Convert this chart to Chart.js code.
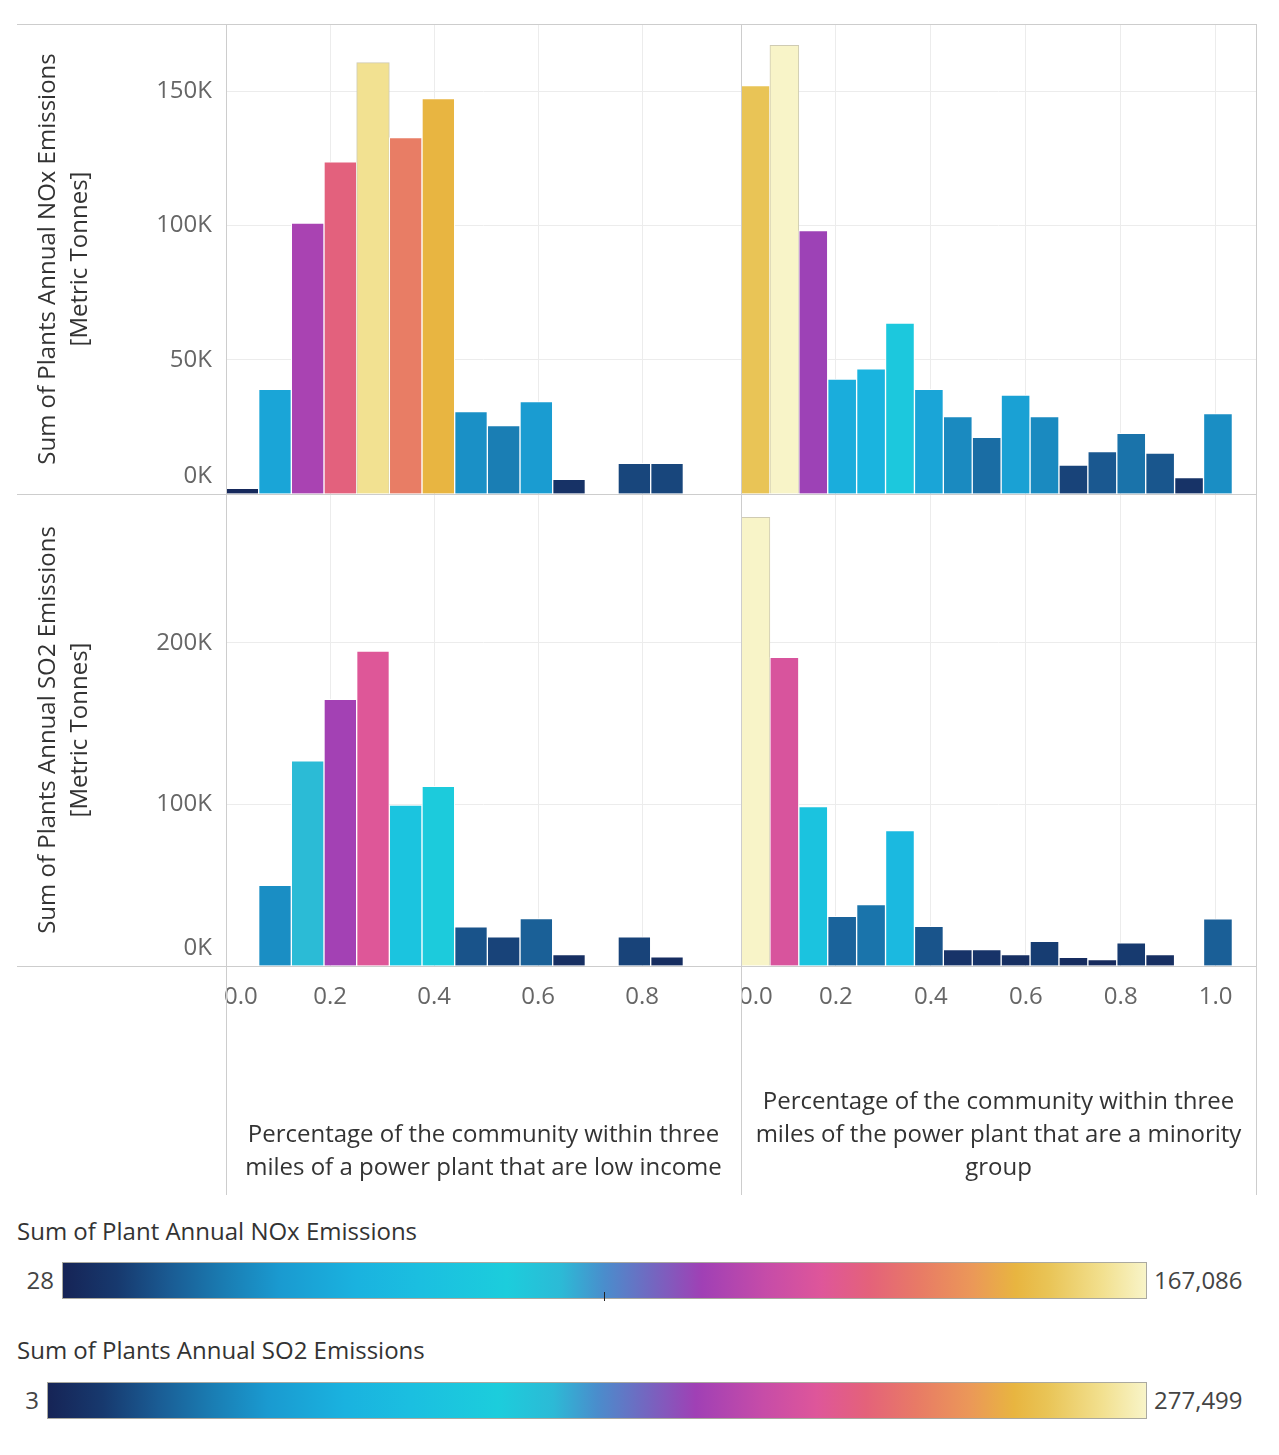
<!DOCTYPE html>
<html>
<head>
<meta charset="utf-8">
<script src="https://cdn.jsdelivr.net/npm/chart.js@4.4.1/dist/chart.umd.min.js"></script>
<style>
body{margin:0;background:#fff;width:1279px;height:1455px;position:relative;overflow:hidden;font-family:'Open Sans',sans-serif;}
canvas{position:absolute;}
.ln{position:absolute;background:#cdcdcd;z-index:2;}
.lg-title{position:absolute;left:17px;font-size:24px;color:#333;line-height:30px;white-space:nowrap;}
.lg-bar{position:absolute;box-sizing:border-box;border:1px solid #aaa9a0;}
.lg-val{position:absolute;font-size:24px;color:#444;line-height:36px;white-space:nowrap;}
</style>
</head>
<body>
<canvas id="noxLow" width="724" height="470" style="left:17px;top:24px"></canvas>
<canvas id="noxMin" width="515" height="470" style="left:741px;top:24px"></canvas>
<canvas id="so2Low" width="724" height="701" style="left:17px;top:494px"></canvas>
<canvas id="so2Min" width="515" height="701" style="left:741px;top:494px"></canvas>

<div class="ln" style="left:17px;top:24px;width:1240px;height:1px"></div>
<div class="ln" style="left:17px;top:494px;width:1240px;height:1px"></div>
<div class="ln" style="left:17px;top:966px;width:1240px;height:1px"></div>
<div class="ln" style="left:226px;top:24px;width:1px;height:1171px"></div>
<div class="ln" style="left:741px;top:24px;width:1px;height:1171px"></div>
<div class="ln" style="left:1256px;top:24px;width:1px;height:1171px"></div>

<div class="lg-title" style="top:1216px">Sum of Plant Annual NOx Emissions</div>
<div class="lg-bar" id="noxBar" style="left:62px;top:1262px;width:1085px;height:37px"></div>
<div style="position:absolute;left:604px;top:1292px;width:1px;height:9px;background:#222;z-index:3"></div>
<div class="lg-val" id="noxMinLbl" style="left:0;width:54px;text-align:right;top:1262px"></div>
<div class="lg-val" id="noxMaxLbl" style="left:1154px;top:1262px"></div>

<div class="lg-title" style="top:1335px">Sum of Plants Annual SO2 Emissions</div>
<div class="lg-bar" id="so2Bar" style="left:47px;top:1382px;width:1100px;height:37px"></div>
<div class="lg-val" id="so2MinLbl" style="left:0;width:39px;text-align:right;top:1382px"></div>
<div class="lg-val" id="so2MaxLbl" style="left:1154px;top:1382px"></div>

<script>
// histogram bins (bin width in share of community)
const binWidthLowIncome = 0.0628;
const binWidthMinority = 0.0609;

// annual NOx, metric tonnes per bin
const noxLowIncome = [2100, 39000, 100900, 123700, 160600, 132700, 147200, 30700, 25500, 34400, 5500, null, 11400, 11400];
const noxMinority = [152100, 167086, 98100, 42800, 46600, 63600, 39000, 28800, 21100, 36800, 28800, 10800, 15800, 22600, 15200, 6100, 29900];

// annual SO2, metric tonnes per bin
const so2LowIncome = [null, 49900, 126900, 165000, 194900, 99600, 111100, 24200, 18000, 29300, 7100, null, 18000, 5700];
const so2Minority = [277499, 191000, 98700, 30800, 38000, 83700, 24600, 10200, 10200, 7100, 15300, 5400, 4000, 14300, 7100, null, 29200];

// axis ticks
const xTicksLowIncome = [0, 0.2, 0.4, 0.6, 0.8];
const xTicksMinority = [0, 0.2, 0.4, 0.6, 0.8, 1.0];
const yTicksNox = [0, 50000, 100000, 150000];
const yTicksSo2 = [0, 100000, 200000];

// colour legend ranges
const noxRange = [28, 167086];
const so2Range = [3, 277499];

const colorStops = [
  [0, '#162456'], [0.05, '#17396e'], [0.1, '#1a5c94'], [0.15, '#1a7db3'], [0.2, '#1a9ad0'],
  [0.27, '#1ab2df'], [0.33, '#1bbfe0'], [0.41, '#1ccddc'], [0.46, '#2cbad6'], [0.5, '#4a8dcc'],
  [0.545, '#7466c0'], [0.59, '#a040b5'], [0.65, '#c64ca8'], [0.7, '#de569a'], [0.745, '#e4627a'],
  [0.79, '#e87a66'], [0.84, '#eb9858'], [0.88, '#e8b540'], [0.91, '#e9c456'], [0.96, '#f2e08f'], [1, '#f8f4c8']
];

function hex2rgb(h){ return [1,3,5].map(i => parseInt(h.substr(i,2),16)); }
function colorAt(t){
  t = Math.max(0, Math.min(1, t));
  for (let i = 1; i < colorStops.length; i++) {
    if (t <= colorStops[i][0]) {
      const [p0, c0] = colorStops[i-1], [p1, c1] = colorStops[i];
      const f = (t - p0) / (p1 - p0), a = hex2rgb(c0), b = hex2rgb(c1);
      return 'rgb(' + a.map((v,k) => Math.round(v + (b[k]-v)*f)).join(',') + ')';
    }
  }
  return colorStops[colorStops.length-1][1];
}
const gradientCss = 'linear-gradient(to right,' + colorStops.map(s => s[1] + ' ' + (s[0]*100) + '%').join(',') + ')';
document.getElementById('noxBar').style.background = gradientCss;
document.getElementById('so2Bar').style.background = gradientCss;
document.getElementById('noxMinLbl').textContent = noxRange[0].toLocaleString('en-US');
document.getElementById('noxMaxLbl').textContent = noxRange[1].toLocaleString('en-US');
document.getElementById('so2MinLbl').textContent = so2Range[0].toLocaleString('en-US');
document.getElementById('so2MaxLbl').textContent = so2Range[1].toLocaleString('en-US');

const FONT = "'Open Sans', sans-serif";
Chart.defaults.font.family = FONT;

// tableau style tick labels: edge labels pulled inside the pane
const tickLabels = {
  id: 'tickLabels',
  afterDraw(chart, args, o) {
    const ctx = chart.ctx, a = chart.chartArea;
    ctx.save();
    ctx.font = '24px ' + FONT;
    ctx.fillStyle = '#666';
    if (o.y) {
      const s = chart.scales.y;
      ctx.textAlign = 'right'; ctx.textBaseline = 'middle';
      s.ticks.forEach(t => {
        let py = s.getPixelForValue(t.value);
        if (py > a.bottom - 18) py = a.bottom - 18;
        ctx.fillText(t.label, a.left - 14, py);
      });
    }
    if (o.x) {
      const s = chart.scales.x;
      ctx.textBaseline = 'middle';
      s.ticks.forEach(t => {
        const px = s.getPixelForValue(t.value);
        const w = ctx.measureText(t.label).width;
        if (px - w/2 < a.left - 2) { ctx.textAlign = 'left'; ctx.fillText(t.label, a.left - 2, a.bottom + 31); }
        else { ctx.textAlign = 'center'; ctx.fillText(t.label, px, a.bottom + 31); }
      });
    }
    ctx.restore();
  }
};

const useTicks = (list) => (scale) => { scale.ticks = list.map(v => ({value: v})); };

function makeChart(id, values, binWidth, range, xMax, xTicks, yMax, yTicks, cfg) {
  const data = values.map((v, i) => ({x: (i + 0.5) * binWidth, y: v}));
  const frac = values.map(v => v == null ? 0 : (v - range[0]) / (range[1] - range[0]));
  return new Chart(document.getElementById(id), {
    type: 'bar',
    data: {
      datasets: [{
        data: data,
        backgroundColor: frac.map(colorAt),
        borderColor: frac.map(f => f > 0.93 ? '#cfcbb3' : 'rgba(255,255,255,0.95)'),
        borderWidth: 1,
        barPercentage: 1,
        categoryPercentage: 1
      }]
    },
    options: {
      responsive: false,
      animation: false,
      layout: {padding: 0},
      plugins: {legend: {display: false}, tooltip: {enabled: false}, tickLabels: {x: cfg.xLabels, y: cfg.yLabels}},
      scales: {
        x: {
          type: 'linear', min: 0, max: xMax, offset: false,
          grid: {color: '#ececec', drawTicks: false, offset: false},
          border: {display: false},
          ticks: {display: false, callback: v => v.toFixed(1)},
          afterBuildTicks: useTicks(xTicks),
          afterFit: s => { s.height = cfg.xHeight; },
          title: cfg.xTitle ? {display: true, text: cfg.xTitle, color: '#333',
            font: {size: 24, lineHeight: 33/24}, padding: {top: 0, bottom: 10}} : {display: false}
        },
        y: {
          min: 0, max: yMax,
          grid: {color: '#ececec', drawTicks: false},
          border: {display: false},
          ticks: {display: false, callback: v => (v/1000) + 'K'},
          afterBuildTicks: useTicks(yTicks),
          afterFit: s => { s.width = cfg.yWidth; },
          title: cfg.yTitle ? {display: true, text: cfg.yTitle, color: '#333',
            font: {size: 24, lineHeight: 32/24}, padding: {top: 15, bottom: 0}} : {display: false}
        }
      }
    },
    plugins: [tickLabels]
  });
}

makeChart('noxLow', noxLowIncome, binWidthLowIncome, noxRange, 0.99, xTicksLowIncome, 175000, yTicksNox,
  {yLabels: true, yWidth: 209, xHeight: 0, yTitle: ['Sum of Plants Annual NOx Emissions', '[Metric Tonnes]']});
makeChart('noxMin', noxMinority, binWidthMinority, noxRange, 1.085, xTicksMinority, 175000, yTicksNox,
  {yWidth: 0, xHeight: 0});
makeChart('so2Low', so2LowIncome, binWidthLowIncome, so2Range, 0.99, xTicksLowIncome, 292000, yTicksSo2,
  {yLabels: true, xLabels: true, yWidth: 209, xHeight: 229,
   yTitle: ['Sum of Plants Annual SO2 Emissions', '[Metric Tonnes]'],
   xTitle: ['Percentage of the community within three', 'miles of a power plant that are low income']});
makeChart('so2Min', so2Minority, binWidthMinority, so2Range, 1.085, xTicksMinority, 292000, yTicksSo2,
  {xLabels: true, yWidth: 0, xHeight: 229,
   xTitle: ['Percentage of the community within three', 'miles of the power plant that are a minority', 'group']});
</script>
</body>
</html>
